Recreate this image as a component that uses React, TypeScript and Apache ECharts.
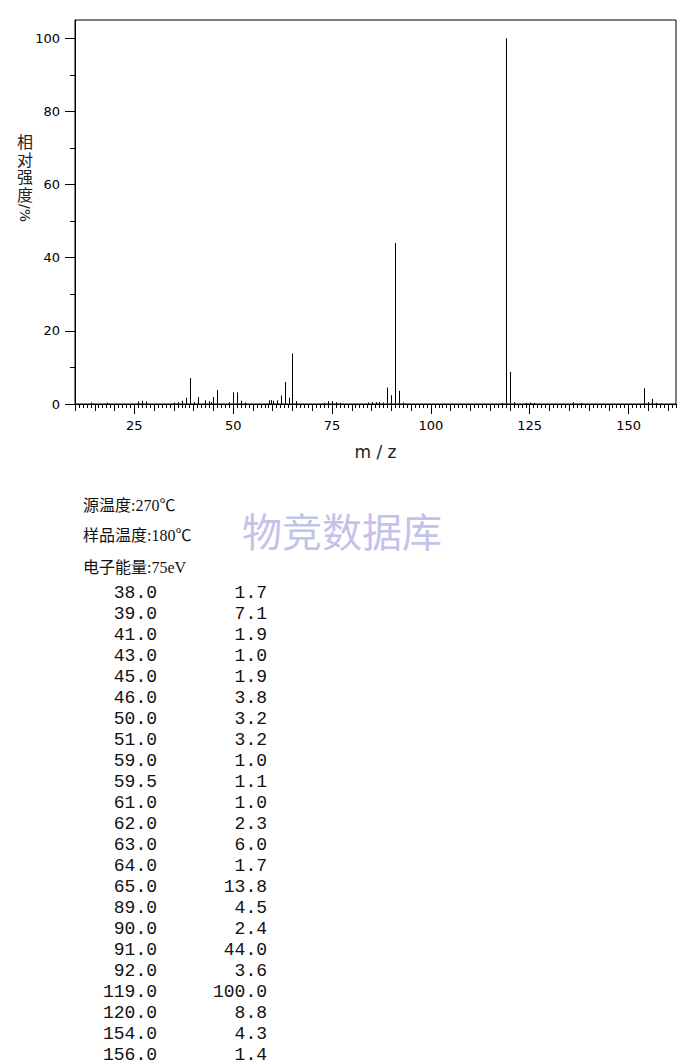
import React, { useEffect, useRef } from "react";
import * as echarts from "echarts";

// Listed peaks (m/z, relative intensity %)
const tableMz = [38, 39, 41, 43, 45, 46, 50, 51, 59, 59.5, 61, 62, 63, 64, 65, 89, 90, 91, 92, 119, 120, 154, 156];
const tableIntensity = [1.7, 7.1, 1.9, 1.0, 1.9, 3.8, 3.2, 3.2, 1.0, 1.1, 1.0, 2.3, 6.0, 1.7, 13.8, 4.5, 2.4, 44.0, 3.6, 100.0, 8.8, 4.3, 1.4];

// Small peaks visible in the spectrum but not listed in the table
const minorMz = [14, 18, 26, 27, 28, 35, 36, 37, 40, 44, 44.5, 49, 52, 53, 60, 66, 73, 74, 75, 76, 77, 84, 85, 86, 87, 88, 93, 118, 121, 124, 125, 126, 136, 138, 155, 157];
const minorIntensity = [0.4, 0.4, 0.7, 0.9, 0.7, 0.4, 0.5, 0.9, 0.5, 0.8, 0.5, 0.5, 0.9, 0.4, 0.9, 0.8, 0.3, 0.8, 0.8, 0.5, 0.3, 0.4, 0.5, 0.5, 0.5, 0.4, 0.4, 0.3, 0.5, 0.3, 0.4, 0.3, 0.5, 0.3, 0.5, 0.3];

const xLabelValues = [25, 50, 75, 100, 125, 150];
const xMidTickValues = [10, 15, 20, 25, 30, 35, 40, 45, 50, 55, 60, 65, 70, 75, 80, 85, 90, 95, 100, 105, 110, 115, 120, 125, 130, 135, 140, 145, 150, 155, 160];
const yLabelValues = [0, 20, 40, 60, 80, 100];
const yMinorTickValues = [10, 30, 50, 70, 90];

const headerLines = ["源温度:270℃", "样品温度:180℃", "电子能量:75eV"];
const yTitleChars = ["相", "对", "强", "度"];
const yTitleUnit = "/%";
const xTitle = "m / z";
const watermark = "物竞数据库";

const W = 687;
const H = 1061;

export default function App() {
  const ref = useRef<HTMLDivElement>(null);

  useEffect(() => {
    if (!ref.current) return;
    const chart = echarts.init(ref.current, undefined, { renderer: "svg" });

    const peakData = [
      ...minorMz.map((m, i) => [m, minorIntensity[i]]),
      ...tableMz.map((m, i) => [m, tableIntensity[i]]),
    ];

    const axisFont = { fontFamily: "DejaVu Sans", fontSize: 13, color: "#000" };
    const black = { color: "#000", width: 1 };

    const graphics: any[] = [];
    // y-axis title (vertical, upright characters)
    yTitleChars.forEach((c, i) => {
      graphics.push({
        type: "text",
        x: 25,
        y: 133 + 17.5 * i,
        style: {
          text: c,
          fontSize: 16,
          lineHeight: 16,
          fontFamily: "Noto Sans CJK SC",
          fill: "#222",
          align: "center",
          verticalAlign: "top",
        },
      });
    });
    graphics.push({
      type: "text",
      x: 25,
      y: 213,
      rotation: -Math.PI / 2,
      style: {
        text: yTitleUnit,
        fontSize: 14,
        fontFamily: "DejaVu Sans",
        fill: "#222",
        align: "center",
        verticalAlign: "middle",
      },
    });
    // header lines
    const headerY = [505, 535, 567];
    headerLines.forEach((t, i) => {
      graphics.push({
        type: "text",
        x: 83,
        y: headerY[i],
        style: {
          text: t,
          fontSize: 16,
          fontFamily: "Liberation Serif, Noto Sans CJK SC",
          fill: "#111",
          align: "left",
          verticalAlign: "middle",
        },
      });
    });
    // watermark
    graphics.push({
      type: "text",
      x: 242,
      y: 530,
      style: {
        text: watermark,
        fontSize: 40,
        fontFamily: "Noto Sans CJK SC",
        fill: "#c3c3ea",
        align: "left",
        verticalAlign: "middle",
      },
    });
    // peak table
    tableMz.forEach((m, i) => {
      const y = 593 + 21 * i;
      const common = {
        fontSize: 18,
        lineHeight: 12,
        fontFamily: "Liberation Mono",
        fill: "#111",
        align: "right",
        verticalAlign: "middle",
      };
      graphics.push({ type: "text", x: 157, y, style: { ...common, text: m.toFixed(1) } });
      graphics.push({ type: "text", x: 267, y, style: { ...common, text: tableIntensity[i].toFixed(1) } });
    });

    const option: any = {
      animation: false,
      backgroundColor: "#fff",
      grid: {
        left: 75,
        right: W - 676,
        top: 20,
        bottom: H - 404,
        show: true,
        borderColor: "#000",
        borderWidth: 1,
        containLabel: false,
      },
      xAxis: [
        {
          type: "value",
          position: "bottom",
          min: 10,
          max: 162,
          interval: 1,
          axisLine: { show: true, onZero: false, lineStyle: black },
          axisTick: { show: true, length: 4, lineStyle: black },
          axisLabel: { show: false },
          splitLine: { show: false },
        },
        {
          type: "value",
          position: "bottom",
          min: 10,
          max: 162,
          axisLine: { show: false, onZero: false },
          axisTick: { show: true, length: 7, lineStyle: black, customValues: xMidTickValues },
          axisLabel: { show: false },
          splitLine: { show: false },
        },
        {
          type: "value",
          position: "bottom",
          min: 10,
          max: 162,
          axisLine: { show: false, onZero: false },
          axisTick: { show: true, length: 10, lineStyle: black, customValues: xLabelValues },
          axisLabel: { show: true, margin: 15, customValues: xLabelValues, ...axisFont },
          splitLine: { show: false },
          name: xTitle,
          nameLocation: "middle",
          nameGap: 39,
          nameTextStyle: { fontFamily: "DejaVu Sans", fontSize: 17, color: "#222" },
        },
      ],
      yAxis: [
        {
          type: "value",
          position: "left",
          min: 0,
          max: 105,
          axisLine: { show: true, lineStyle: black },
          axisTick: { show: true, length: 10, lineStyle: black, customValues: yLabelValues },
          axisLabel: { show: true, margin: 15, customValues: yLabelValues, ...axisFont },
          splitLine: { show: false },
        },
        {
          type: "value",
          position: "left",
          min: 0,
          max: 105,
          axisLine: { show: false },
          axisTick: { show: true, length: 5, lineStyle: black, customValues: yMinorTickValues },
          axisLabel: { show: false },
          splitLine: { show: false },
        },
      ],
      series: [
        {
          type: "custom",
          xAxisIndex: 0,
          yAxisIndex: 0,
          data: peakData,
          renderItem: (params: any, api: any) => {
            const x = api.value(0);
            const v = api.value(1);
            const top = api.coord([x, v]);
            const base = api.coord([x, 0]);
            const px = Math.round(top[0]) + 0.5;
            return {
              type: "line",
              shape: { x1: px, y1: base[1], x2: px, y2: top[1] },
              style: { stroke: "#000", lineWidth: 1 },
            };
          },
        },
      ],
      graphic: graphics,
    };

    chart.setOption(option);
    return () => chart.dispose();
  }, []);

  return (
    <div
      ref={ref}
      style={{ position: "absolute", left: 0, top: 0, width: W, height: H, background: "#fff" }}
    />
  );
}
